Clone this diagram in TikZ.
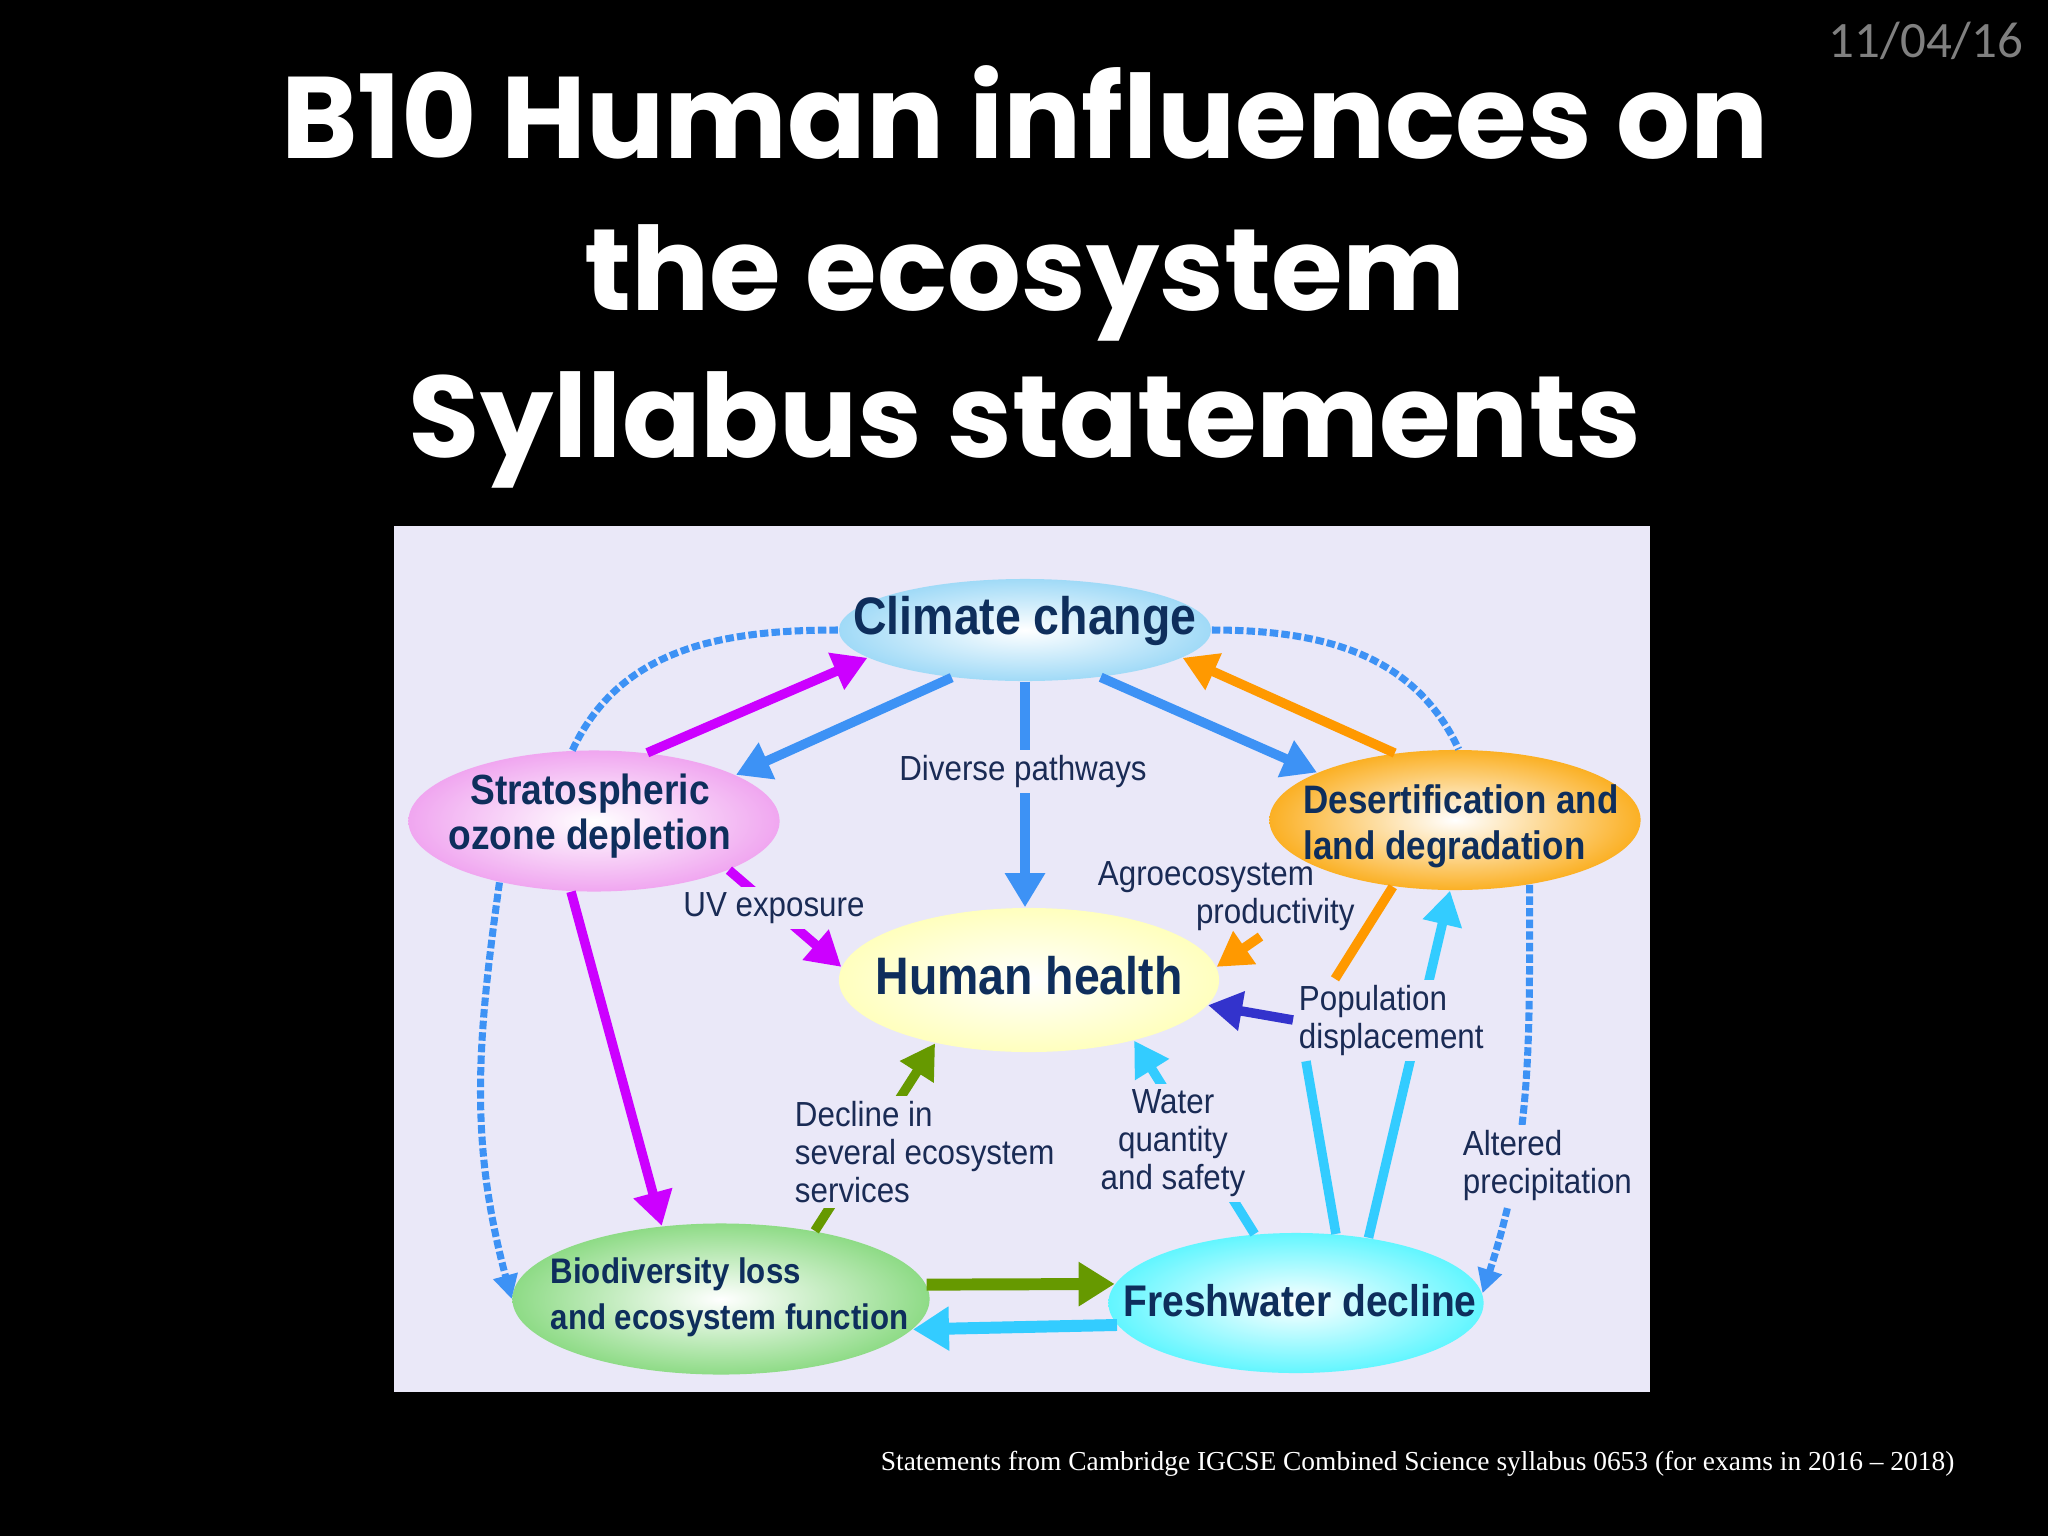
\documentclass[tikz,border=0pt]{standalone}
\usepackage{fontspec}
\usepackage{tikz}
\usetikzlibrary{arrows.meta}
\usetikzlibrary{shapes.geometric}
\usetikzlibrary{calc}

\newfontfamily\titlefont{Poppins}
\newfontfamily\datefont{Carlito}
\newfontfamily\footfont{Liberation Serif}
\newfontfamily\blobfont{Liberation Sans}[FakeStretch=0.88]
\newfontfamily\notefont{Liberation Sans}[FakeStretch=0.9]

\definecolor{panelbg}{HTML}{EAE8F8}
\definecolor{inktext}{HTML}{0E2E5C}
\definecolor{notetext}{HTML}{1A2B55}
\definecolor{datecol}{HTML}{808080}
\definecolor{armblue}{HTML}{3D92F5}
\definecolor{armmagenta}{HTML}{CC00FF}
\definecolor{armorange}{HTML}{FF9900}
\definecolor{armcyan}{HTML}{33CCFF}
\definecolor{armgreen}{HTML}{669900}
\definecolor{armnavy}{HTML}{3333CC}
\definecolor{climatecol}{HTML}{A0DAF7}
\definecolor{stratcol}{HTML}{F0A6F0}
\definecolor{desertcol}{HTML}{FBB024}
\definecolor{hhcol}{HTML}{FFFFBE}
\definecolor{biocol}{HTML}{8EDB86}
\definecolor{freshcol}{HTML}{62F6FF}

\tikzset{
	blob/.style={ellipse, draw=none, inner sep=0pt, shade, inner color=white, outer color=#1},
	blobtext/.style={inktext, inner sep=0pt, align=center, font=\blobfont\bfseries\fontsize{#1}{13}\selectfont},
	note/.style={notetext, fill=panelbg, inner sep=1.5pt, align=left, font=\notefont\fontsize{9.9}{10.8}\selectfont},
	fat/.style={#1, line width=2.7pt, -{Triangle[length=0.34cm,width=0.38cm]}},
	bigfat/.style={#1, line width=3.4pt, -{Triangle[length=0.36cm,width=0.42cm]}},
	bare/.style={#1, line width=2.7pt},
	dots/.style={armblue, line width=2pt, dash pattern=on 2.4pt off 0.9pt},
	dotstip/.style={dots, -{Triangle[length=0.24cm,width=0.24cm]}},
	titletext/.style={white, anchor=base, inner sep=0pt, font=\titlefont\bfseries\fontsize{33}{40}\selectfont},
}

\begin{document}
\begin{tikzpicture}[x=0.01cm, y=-0.01cm]

\fill[black] (0,0) rectangle (2048,1536);
\useasboundingbox (0,0) rectangle (2048,1536);

% title and margins of the slide
\node[titletext] (title1) at (1025,158) {B10 Human influences on};
\node[titletext] (title2) at (1025,310) {the ecosystem};
\node[titletext] (title3) at (1025,457) {Syllabus statements};
\node[datecol, anchor=base east, inner sep=0pt, font=\datefont\fontsize{14.5}{16}\selectfont] (date) at (2024,57) {11/04/16};
\node[white, anchor=base east, inner sep=0pt, font=\footfont\fontsize{7.8}{9}\selectfont] (source) at (1955,1470)
	{Statements from Cambridge IGCSE Combined Science syllabus 0653 (for exams in 2016 – 2018)};

\fill[panelbg] (394,526) rectangle (1650,1392);

% the six effects
\node[blob=climatecol, minimum width=3.72cm, minimum height=1.02cm] (climate) at (1025,630) {};
\node[blob=stratcol, minimum width=3.71cm, minimum height=1.41cm] (strat) at (594,821) {};
\node[blob=desertcol, minimum width=3.71cm, minimum height=1.40cm] (desert) at (1455,820) {};
\node[blob=hhcol, minimum width=3.80cm, minimum height=1.44cm] (hh) at (1029,980) {};
\node[blob=biocol, minimum width=4.17cm, minimum height=1.51cm] (bio) at (721,1299) {};
\node[blob=freshcol, minimum width=3.75cm, minimum height=1.40cm] (fresh) at (1296,1303) {};

\node[blobtext=15] (climatetxt) at (1025,621) {Climate change};
\node[blobtext=12] (strattxt) at (590,816) {Stratospheric\\ozone depletion};
\node[blobtext=11.3, anchor=west, align=left] (deserttxt) at (1303,826) {Desertification and\\land degradation};
\node[blobtext=15] (hhtxt) at (1029,976) {Human health};
\node[blobtext=10.1, anchor=west, align=left] (biotxt) at (550,1297) {Biodiversity loss\\and ecosystem function};
\node[blobtext=12.6] (freshtxt) at (1300,1301) {Freshwater decline};

% links between the effects
\draw[fat=armmagenta] (strat.52) -- (climate.190);
\draw[fat=armblue] (climate.213) -- (strat.18);
\draw[fat=armblue] (climate.south) -- (climate.south |- hh.north);
\draw[fat=armblue] (climate.328) -- (desert.161);
\draw[fat=armorange] (desert.132) -- (climate.350);
\draw[dots] (strat.107) to[out=65, in=180] (climate.west);
\draw[dots] (climate.east) to[out=0, in=115] (desert.87);
\draw[dotstip] (strat.213) to[out=262, in=105] (bio.west);
\draw[dotstip] (desert.319) to[out=270, in=72] (fresh.3);
\draw[fat=armmagenta] (strat.252) -- (bio.129);
\draw[fat=armmagenta] (strat.340) -- (hh.176);
\draw[fat=armcyan] (fresh.121) -- (hh.330);
\draw[fat=armcyan] (fresh.42) -- (desert.266);
\draw[fat=armgreen] (bio.36) -- (hh.214);
\draw[bigfat=armgreen] (bio.4) -- (fresh.174);
\draw[bigfat=armcyan] (fresh.187) -- (bio.351);

% labels sit on top of the links
\node[note] (diverse) at (1023,771) {Diverse pathways};
\node[note] (uv) at (774,908) {UV exposure};
\node[note, fill=none, anchor=west] (agro) at (1092,896) {Agroecosystem\\\hspace*{0.98cm}productivity};
\node[note, anchor=west] (pop) at (1293,1020) {Population\\displacement};
\node[note, align=center] (water) at (1173,1143) {Water\\quantity\\and safety};
\node[note, anchor=west] (decline) at (789,1152) {Decline in\\several ecosystem\\services};
\node[note, anchor=west] (altered) at (1457,1165) {Altered\\precipitation};

\draw[bare=armorange] (desert.227) -- ($(pop.north west)+(42,0)$);
\draw[bare=armcyan] (fresh.60) -- ($(pop.south west)+(13,0)$);
\draw[fat=armnavy] (pop.west) -- (hh.352);
\draw[fat=armorange] ($(agro.south east)+(-100,0)$) -- (hh.4);

\end{tikzpicture}
\end{document}
